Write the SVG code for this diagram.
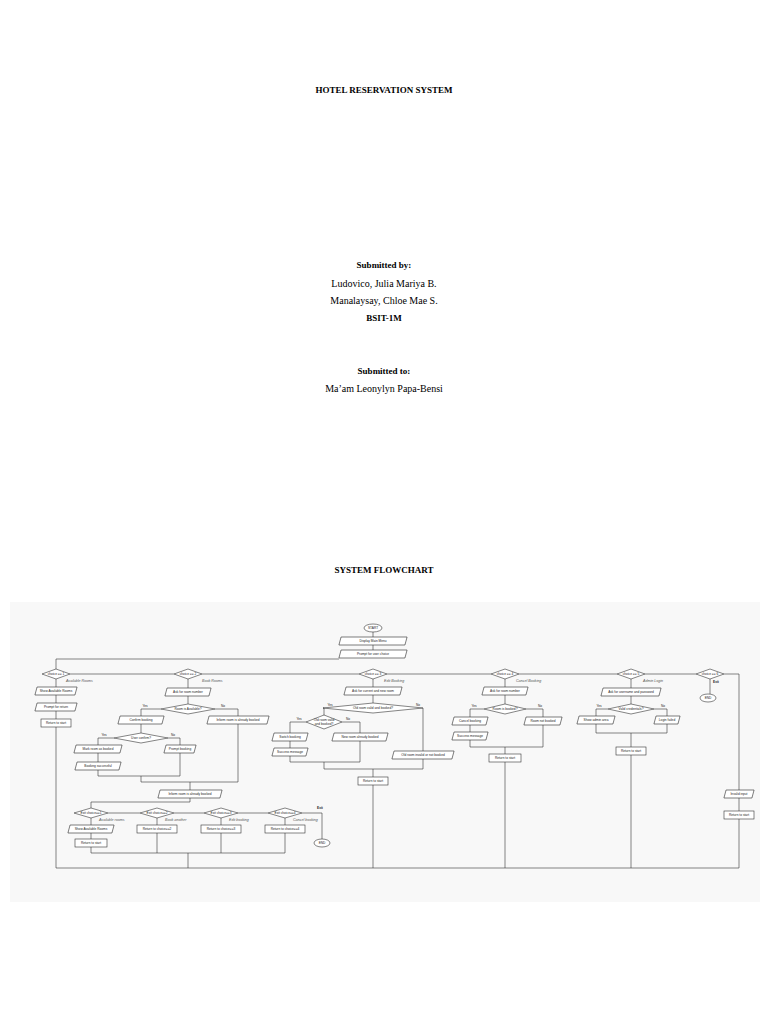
<svg xmlns="http://www.w3.org/2000/svg" width="768" height="1024" viewBox="0 0 768 1024">
<style>
.h{font-family:"Liberation Serif",serif;font-size:9px;font-weight:bold;text-anchor:middle}
.p{font-family:"Liberation Serif",serif;font-size:10px;text-anchor:middle}
.b{fill:#fff;stroke:#333;stroke-width:0.6}
.t{font-family:"Liberation Sans",sans-serif;font-size:3.2px;text-anchor:middle;fill:#222}
.l{font-family:"Liberation Sans",sans-serif;font-size:3.6px;font-style:italic;fill:#555}
.c line,.c polyline{stroke:#333;stroke-width:0.6;fill:none}
</style>
<rect width="768" height="1024" fill="#fff"/>
<text class="h" x="384" y="93">HOTEL RESERVATION SYSTEM</text>
<text class="h" x="384" y="268">Submitted by:</text>
<text class="p" x="384" y="287">Ludovico, Julia Mariya B.</text>
<text class="p" x="384" y="304">Manalaysay, Chloe Mae S.</text>
<text class="h" x="384" y="321">BSIT-1M</text>
<text class="h" x="384" y="374">Submitted to:</text>
<text class="p" x="384" y="392">Ma’am Leonylyn Papa-Bensi</text>
<text class="h" x="384" y="573">SYSTEM FLOWCHART</text>
<rect x="10" y="602" width="750" height="300" fill="#f8f8f8"/>
<g class="c" id="connectors">
<polyline points="373,632 373,637"/><polyline points="373,645 373,650"/>
<polyline points="339,659 56,659 56,669"/>
<polyline points="70,674 174,674"/><polyline points="202,674 359,674"/><polyline points="387,674 491,674"/><polyline points="519,674 617,674"/><polyline points="645,674 696,674"/>
<polyline points="724,674 739,674 739,790"/><polyline points="739,798 739,811"/><polyline points="739,819 739,868"/>
<polyline points="56,679 56,687"/><polyline points="56,695 56,703"/><polyline points="56,711 56,719"/><polyline points="56,727 56,868"/>
<polyline points="188,679 188,688"/><polyline points="188,696 188,704"/>
<polyline points="161,709 141,709 141,716"/><polyline points="215,709 238,709 238,716"/>
<polyline points="141,724 141,733"/><polyline points="114,738 98,738 98,745"/><polyline points="168,738 180,738 180,745"/>
<polyline points="98,753 98,762"/><polyline points="98,770 98,776 180,776"/><polyline points="180,753 180,776"/>
<polyline points="141,776 141,782 238,782"/><polyline points="238,724 238,782"/>
<polyline points="190,782 190,790"/><polyline points="190,798 190,802 91,802 91,808"/>
<polyline points="108,813 140,813"/><polyline points="174,813 204,813"/><polyline points="238,813 268,813"/><polyline points="302,813 322,813 322,839"/>
<polyline points="91,818 91,825"/><polyline points="91,833 91,839"/><polyline points="91,847 91,853 285,853"/>
<polyline points="157,818 157,825"/><polyline points="157,833 157,853"/><polyline points="221,818 221,825"/><polyline points="221,833 221,853"/>
<polyline points="285,818 285,825"/><polyline points="285,833 285,853"/><polyline points="188,853 188,868"/>
<polyline points="56,868 739,868"/>
<polyline points="373,679 373,687"/><polyline points="373,695 373,703"/>
<polyline points="323,708 324,708 324,716"/><polyline points="423,708 423,751"/>
<polyline points="306,722 290,722 290,733"/><polyline points="342,722 360,722 360,733"/>
<polyline points="290,741 290,748"/><polyline points="290,756 290,762 360,762"/><polyline points="360,741 360,762"/>
<polyline points="324,762 324,769 423,769"/><polyline points="423,759 423,769"/><polyline points="373,769 373,777"/><polyline points="373,785 373,868"/>
<polyline points="505,679 505,687"/><polyline points="505,695 505,704"/>
<polyline points="484,709 470,709 470,717"/><polyline points="526,709 543,709 543,717"/>
<polyline points="470,725 470,732"/><polyline points="470,740 470,747 543,747"/><polyline points="543,725 543,747"/>
<polyline points="505,747 505,754"/><polyline points="505,762 505,868"/>
<polyline points="631,679 631,688"/><polyline points="631,696 631,704"/>
<polyline points="608,709 596,709 596,716"/><polyline points="654,709 667,709 667,716"/>
<polyline points="596,724 596,733 667,733"/><polyline points="667,724 667,733"/><polyline points="631,733 631,747"/><polyline points="631,755 631,868"/>
<polyline points="710,679 710,694"/>
</g>
<g id="start"><ellipse class="b" cx="373" cy="628" rx="9" ry="4"/><text class="t" x="373" y="629">START</text></g>
<g id="menu"><rect class="b" x="-33" y="-4" width="66" height="8" transform="translate(373 641) skewX(-15)"/><text class="t" x="373" y="642">Display Main Menu</text></g>
<g id="prompt"><rect class="b" x="-33" y="-4" width="66" height="8" transform="translate(373 654) skewX(-15)"/><text class="t" x="373" y="655">Prompt for user choice</text></g>
<g id="d1"><polygon class="b" points="-14,0 0,-5 14,0 0,5" transform="translate(56 674)"/><text class="t" x="56" y="675">choice == 1</text></g>
<g id="d2"><polygon class="b" points="-14,0 0,-5 14,0 0,5" transform="translate(188 674)"/><text class="t" x="188" y="675">choice == 2</text></g>
<g id="d3"><polygon class="b" points="-14,0 0,-5 14,0 0,5" transform="translate(373 674)"/><text class="t" x="373" y="675">choice == 3</text></g>
<g id="d4"><polygon class="b" points="-14,0 0,-5 14,0 0,5" transform="translate(505 674)"/><text class="t" x="505" y="675">choice == 4</text></g>
<g id="d5"><polygon class="b" points="-14,0 0,-5 14,0 0,5" transform="translate(631 674)"/><text class="t" x="631" y="675">choice == 5</text></g>
<g id="d6"><polygon class="b" points="-14,0 0,-5 14,0 0,5" transform="translate(710 674)"/><text class="t" x="710" y="675">choice == 6</text></g>
<text class="l" x="66" y="682">Available Rooms</text><text class="l" x="202" y="682">Book Rooms</text><text class="l" x="384" y="682">Edit Booking</text><text class="l" x="516" y="682">Cancel Booking</text><text class="l" x="643" y="682">Admin Login</text><text class="t" x="716" y="683" style="font-weight:bold">Exit</text>
<g id="c1a"><rect class="b" x="-20" y="-4" width="40" height="8" transform="translate(56 691) skewX(-15)"/><text class="t" x="56" y="692">Show Available Rooms</text></g>
<g id="c1b"><rect class="b" x="-20" y="-4" width="40" height="8" transform="translate(56 707) skewX(-15)"/><text class="t" x="56" y="708">Prompt for return</text></g>
<g id="c1c"><rect class="b" x="-15" y="-4" width="30" height="8" transform="translate(56 723)"/><text class="t" x="56" y="724">Return to start</text></g>
<g id="c2a"><rect class="b" x="-22" y="-4" width="44" height="8" transform="translate(188 692) skewX(-15)"/><text class="t" x="188" y="693">Ask for room number</text></g>
<g id="c2d"><polygon class="b" points="-27,0 0,-5 27,0 0,5" transform="translate(188 709)"/><text class="t" x="188" y="710">Room is Available?</text></g>
<text class="t" x="145" y="707">Yes</text><text class="t" x="223" y="707">No</text>
<g id="c2b"><rect class="b" x="-22" y="-4" width="44" height="8" transform="translate(141 720) skewX(-15)"/><text class="t" x="141" y="721">Confirm booking</text></g>
<g id="c2c"><rect class="b" x="-30" y="-4" width="60" height="8" transform="translate(238 720) skewX(-15)"/><text class="t" x="238" y="721">Inform room is already booked</text></g>
<g id="c2e"><polygon class="b" points="-27,0 0,-5 27,0 0,5" transform="translate(141 738)"/><text class="t" x="141" y="739">User confirm?</text></g>
<text class="t" x="104" y="736">Yes</text><text class="t" x="173" y="736">No</text>
<g id="c2f"><rect class="b" x="-23" y="-4" width="46" height="8" transform="translate(98 749) skewX(-15)"/><text class="t" x="98" y="750">Mark room as booked</text></g>
<g id="c2g"><rect class="b" x="-15" y="-4" width="30" height="8" transform="translate(180 749) skewX(-15)"/><text class="t" x="180" y="750">Prompt booking</text></g>
<g id="c2h"><rect class="b" x="-22" y="-4" width="44" height="8" transform="translate(98 766) skewX(-15)"/><text class="t" x="98" y="767">Booking successful</text></g>
<g id="c2i"><rect class="b" x="-31" y="-4" width="62" height="8" transform="translate(190 794) skewX(-15)"/><text class="t" x="190" y="795">Inform room is already booked</text></g>
<g id="e1"><polygon class="b" points="-17,0 0,-5 17,0 0,5" transform="translate(91 813)"/><text class="t" x="91" y="814">Exit choice==1</text></g>
<g id="e2"><polygon class="b" points="-17,0 0,-5 17,0 0,5" transform="translate(157 813)"/><text class="t" x="157" y="814">Exit choice==2</text></g>
<g id="e3"><polygon class="b" points="-17,0 0,-5 17,0 0,5" transform="translate(221 813)"/><text class="t" x="221" y="814">Exit choice==3</text></g>
<g id="e4"><polygon class="b" points="-17,0 0,-5 17,0 0,5" transform="translate(285 813)"/><text class="t" x="285" y="814">Exit choice==4</text></g>
<text class="l" x="99" y="821">Available rooms</text><text class="l" x="165" y="821">Book another</text><text class="l" x="229" y="821">Edit booking</text><text class="l" x="293" y="821">Cancel booking</text><text class="t" x="320" y="809" style="font-weight:bold">Exit</text>
<g id="f1"><rect class="b" x="-22" y="-4" width="44" height="8" transform="translate(91 829) skewX(-15)"/><text class="t" x="91" y="830">Show Available Rooms</text></g>
<g id="f2"><rect class="b" x="-20" y="-4" width="40" height="8" transform="translate(157 829)"/><text class="t" x="157" y="830">Return to choice==2</text></g>
<g id="f3"><rect class="b" x="-20" y="-4" width="40" height="8" transform="translate(221 829)"/><text class="t" x="221" y="830">Return to choice==3</text></g>
<g id="f4"><rect class="b" x="-20" y="-4" width="40" height="8" transform="translate(285 829)"/><text class="t" x="285" y="830">Return to choice==4</text></g>
<g id="f5"><rect class="b" x="-16" y="-4" width="32" height="8" transform="translate(91 843)"/><text class="t" x="91" y="844">Return to start</text></g>
<g id="end1"><ellipse class="b" cx="322" cy="843" rx="8" ry="4"/><text class="t" x="322" y="844">END</text></g>
<g id="c3a"><rect class="b" x="-28" y="-4" width="56" height="8" transform="translate(373 691) skewX(-15)"/><text class="t" x="373" y="692">Ask for current and new room</text></g>
<g id="c3d"><polygon class="b" points="-50,0 0,-5 50,0 0,5" transform="translate(373 708)"/><text class="t" x="373" y="709">Old room valid and booked?</text></g>
<text class="t" x="330" y="706">Yes</text><text class="t" x="418" y="706">No</text>
<g id="c3e"><polygon class="b" points="-18,0 0,-7 18,0 0,7" transform="translate(324 722)"/><text class="t" x="324" y="721">Old room valid</text><text class="t" x="324" y="725">and booked?</text></g>
<text class="t" x="299" y="720">Yes</text><text class="t" x="348" y="720">No</text>
<g id="c3f"><rect class="b" x="-17" y="-4" width="34" height="8" transform="translate(290 737) skewX(-15)"/><text class="t" x="290" y="738">Switch booking</text></g>
<g id="c3g"><rect class="b" x="-17" y="-4" width="34" height="8" transform="translate(290 752) skewX(-15)"/><text class="t" x="290" y="753">Success message</text></g>
<g id="c3h"><rect class="b" x="-27" y="-4" width="54" height="8" transform="translate(360 737) skewX(-15)"/><text class="t" x="360" y="738">New room already booked</text></g>
<g id="c3i"><rect class="b" x="-30" y="-4" width="60" height="8" transform="translate(423 755) skewX(-15)"/><text class="t" x="423" y="756">Old room invalid or not booked</text></g>
<g id="c3j"><rect class="b" x="-15" y="-4" width="30" height="8" transform="translate(373 781)"/><text class="t" x="373" y="782">Return to start</text></g>
<g id="c4a"><rect class="b" x="-22" y="-4" width="44" height="8" transform="translate(505 691) skewX(-15)"/><text class="t" x="505" y="692">Ask for room number</text></g>
<g id="c4d"><polygon class="b" points="-21,0 0,-5 21,0 0,5" transform="translate(505 709)"/><text class="t" x="505" y="710">Room is booked?</text></g>
<text class="t" x="474" y="707">Yes</text><text class="t" x="540" y="707">No</text>
<g id="c4b"><rect class="b" x="-17" y="-4" width="34" height="8" transform="translate(470 721) skewX(-15)"/><text class="t" x="470" y="722">Cancel booking</text></g>
<g id="c4c"><rect class="b" x="-17" y="-4" width="34" height="8" transform="translate(470 736) skewX(-15)"/><text class="t" x="470" y="737">Success message</text></g>
<g id="c4e"><rect class="b" x="-18" y="-4" width="36" height="8" transform="translate(543 721) skewX(-15)"/><text class="t" x="543" y="722">Room not booked</text></g>
<g id="c4f"><rect class="b" x="-16" y="-4" width="32" height="8" transform="translate(505 758)"/><text class="t" x="505" y="759">Return to start</text></g>
<g id="c5a"><rect class="b" x="-29" y="-4" width="58" height="8" transform="translate(631 692) skewX(-15)"/><text class="t" x="631" y="693">Ask for username and password</text></g>
<g id="c5d"><polygon class="b" points="-23,0 0,-5 23,0 0,5" transform="translate(631 709)"/><text class="t" x="631" y="710">Valid credentials?</text></g>
<text class="t" x="599" y="707">Yes</text><text class="t" x="663" y="707">No</text>
<g id="c5b"><rect class="b" x="-18" y="-4" width="36" height="8" transform="translate(596 720) skewX(-15)"/><text class="t" x="596" y="721">Show admin area</text></g>
<g id="c5c"><rect class="b" x="-12" y="-4" width="24" height="8" transform="translate(667 720) skewX(-15)"/><text class="t" x="667" y="721">Login failed</text></g>
<g id="c5e"><rect class="b" x="-15" y="-4" width="30" height="8" transform="translate(631 751)"/><text class="t" x="631" y="752">Return to start</text></g>
<g id="end2"><ellipse class="b" cx="708" cy="698" rx="8" ry="4"/><text class="t" x="708" y="699">END</text></g>
<g id="inv"><rect class="b" x="-14" y="-4" width="28" height="8" transform="translate(739 794) skewX(-15)"/><text class="t" x="739" y="795">Invalid input</text></g>
<g id="ret6"><rect class="b" x="-15" y="-4" width="30" height="8" transform="translate(739 815)"/><text class="t" x="739" y="816">Return to start</text></g>
</svg>
